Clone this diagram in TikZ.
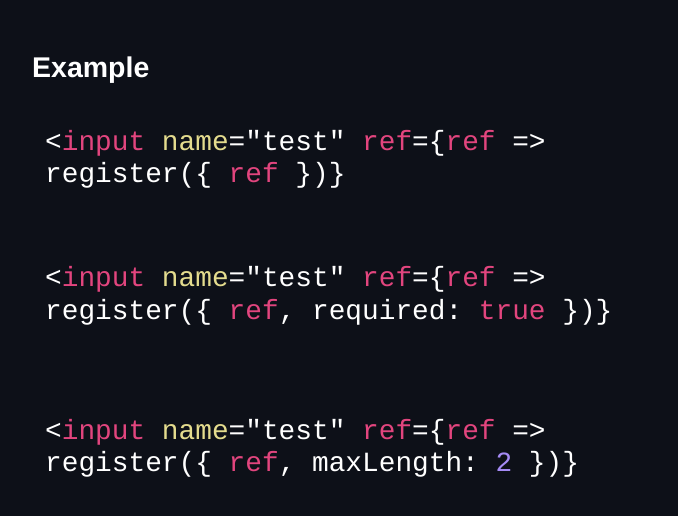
\documentclass[tikz,border=0pt]{standalone}
\usepackage{fontspec}
\setmainfont{Liberation Sans}
\setmonofont{Liberation Mono}
\definecolor{bg}{HTML}{0D1018}
\definecolor{pk}{HTML}{E2457E}
\definecolor{yl}{HTML}{E4DC8E}
\definecolor{pu}{HTML}{A58BF5}
\newcommand{\cP}[1]{\textcolor{pk}{#1}}
\newcommand{\cY}[1]{\textcolor{yl}{#1}}
\newcommand{\cU}[1]{\textcolor{pu}{#1}}
\tikzset{code/.style={anchor=base west,inner sep=0pt,text=white,font=\ttfamily\fontsize{27.8}{32}\selectfont}}
\begin{document}
\begin{tikzpicture}[x=1pt,y=-1pt]
\fill[bg] (0,0) rectangle (678,516);
\useasboundingbox (0,0) rectangle (678,516);
\node[anchor=base west,inner sep=0pt,text=white,font=\bfseries\fontsize{28.5}{32}\selectfont] (t) at (32,78) {Example};
\node[code] (a1) at (45,151) {<\cP{input} \cY{name}="test" \cP{ref}=\{\cP{ref} =>};
\node[code] (a2) at (45,183) {register(\{ \cP{ref} \})\}};
\node[code] (b1) at (45,287) {<\cP{input} \cY{name}="test" \cP{ref}=\{\cP{ref} =>};
\node[code] (b2) at (45,319) {register(\{ \cP{ref}, required: \cP{true} \})\}};
\node[code] (c1) at (45,439) {<\cP{input} \cY{name}="test" \cP{ref}=\{\cP{ref} =>};
\node[code] (c2) at (45,471) {register(\{ \cP{ref}, maxLength: \cU{2} \})\}};
\end{tikzpicture}
\end{document}
